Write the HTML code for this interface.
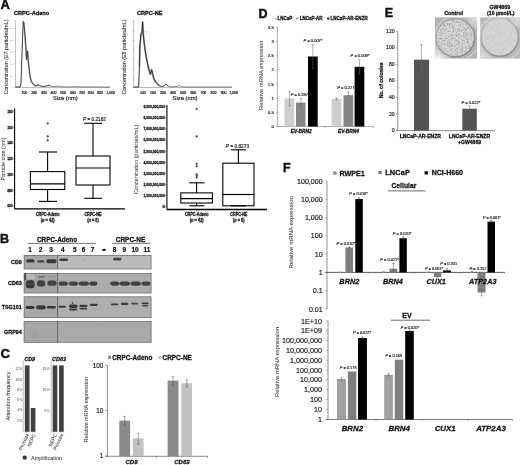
<!DOCTYPE html>
<html lang="en"><head><meta charset="utf-8"><title>Figure</title>
<style>
html,body{margin:0;padding:0;background:#fff;}
body{width:520px;height:465px;overflow:hidden;}
svg{display:block;font-family:"Liberation Sans",sans-serif;}
text{stroke:#111;stroke-width:.16px;}
text[font-weight="bold"]{stroke-width:.26px;}
</style></head><body>
<svg width="520" height="465" viewBox="0 0 520 465">
<defs>
<filter id="b1" x="-20%" y="-50%" width="140%" height="200%"><feGaussianBlur stdDeviation="0.65"/></filter>
<filter id="soft" x="0" y="0" width="100%" height="100%"><feGaussianBlur stdDeviation="0.28"/></filter>
<linearGradient id="blotbg" x1="0" y1="0" x2="1" y2="0"><stop offset="0" stop-color="#c4c4c4"/><stop offset="0.5" stop-color="#cccccc"/><stop offset="1" stop-color="#c8c8c8"/></linearGradient>
<filter id="b2" x="-5%" y="-5%" width="110%" height="110%"><feGaussianBlur stdDeviation="0.35"/></filter>
<radialGradient id="glowW"><stop offset="0" stop-color="#fff" stop-opacity="0.95"/><stop offset="1" stop-color="#fff" stop-opacity="0"/></radialGradient>
<radialGradient id="glowL"><stop offset="0" stop-color="#e4e4e4" stop-opacity="0.9"/><stop offset="1" stop-color="#e4e4e4" stop-opacity="0"/></radialGradient>
<linearGradient id="rim1" x1="0" y1="0" x2="1" y2="1"><stop offset="0" stop-color="#b0b0b0"/><stop offset="0.5" stop-color="#9a9a9a"/><stop offset="1" stop-color="#7c7c7c"/></linearGradient>
<linearGradient id="rim2" x1="0.3" y1="0" x2="0.8" y2="1"><stop offset="0" stop-color="#c4c4c4"/><stop offset="0.5" stop-color="#a4a4a4"/><stop offset="1" stop-color="#858585"/></linearGradient>
<filter id="mottle1" x="0" y="0" width="100%" height="100%"><feTurbulence type="fractalNoise" baseFrequency="0.55" numOctaves="2" seed="4" result="n"/><feColorMatrix in="n" type="matrix" values="0 0 0 0 0  0 0 0 0 0  0 0 0 0 0  2.4 0 0 0 -1.05" result="a"/><feFlood flood-color="#8e8e8e"/><feComposite operator="in" in2="a" result="dark"/><feColorMatrix in="n" type="matrix" values="0 0 0 0 1  0 0 0 0 1  0 0 0 0 1  0 -1.6 0 0 0.55" result="lite"/><feMerge><feMergeNode in="lite"/><feMergeNode in="dark"/></feMerge><feComposite operator="in" in2="SourceGraphic"/></filter>
<filter id="mottle2" x="0" y="0" width="100%" height="100%"><feTurbulence type="fractalNoise" baseFrequency="0.4" numOctaves="2" seed="9" result="n"/><feColorMatrix in="n" type="matrix" values="0 0 0 0 0  0 0 0 0 0  0 0 0 0 0  1.2 0 0 0 -0.5" result="a"/><feFlood flood-color="#b4b4b4"/><feComposite operator="in" in2="a"/><feComposite operator="in" in2="SourceGraphic"/></filter>
<linearGradient id="dishbg1" x1="1" y1="0" x2="0" y2="1"><stop offset="0" stop-color="#b4b4b4"/><stop offset="0.6" stop-color="#c2c2c2"/><stop offset="1" stop-color="#ececec"/></linearGradient>
<linearGradient id="dishbg2" x1="0" y1="0" x2="1" y2="1"><stop offset="0" stop-color="#bcbcbc"/><stop offset="0.7" stop-color="#c6c6c6"/><stop offset="1" stop-color="#d8d8d8"/></linearGradient>
<radialGradient id="dish1" cx="0.5" cy="0.5" r="0.5"><stop offset="0" stop-color="#d6d6d6"/><stop offset="0.85" stop-color="#cecece"/><stop offset="1" stop-color="#b4b4b4"/></radialGradient>
<radialGradient id="dish2" cx="0.5" cy="0.5" r="0.5"><stop offset="0" stop-color="#d8d8d8"/><stop offset="0.85" stop-color="#d2d2d2"/><stop offset="1" stop-color="#bebebe"/></radialGradient>
</defs>
<rect width="520" height="465" fill="#fff"/>
<g filter="url(#soft)">
<g id="panelA">
<text x="0.4" y="9.4" font-size="13" font-weight="bold" fill="#080808" style="stroke-width:.45px">A</text>
<text x="14" y="15.2" font-size="5.6" font-weight="bold" fill="#111">CRPC-Adeno</text>
<text x="137" y="15.2" font-size="5.6" font-weight="bold" fill="#111">CRPC-NE</text>
<text x="7.5" y="57" font-size="5.35" text-anchor="middle" transform="rotate(-90 7.5 57)" fill="#1c1c1c" style="stroke-width:.06px">Concentration (E7 particles/mL)</text>
<line x1="15.5" y1="20" x2="15.5" y2="87.4" stroke="#888" stroke-width="0.5"/>
<line x1="15.5" y1="87.4" x2="110" y2="87.4" stroke="#666" stroke-width="0.5"/>
<line x1="14.3" y1="87.4" x2="15.5" y2="87.4" stroke="#666" stroke-width="0.4"/>
<text x="13" y="88.30000000000001" font-size="2.4" text-anchor="end" fill="#888" style="stroke:none">0</text>
<line x1="14.3" y1="75.60000000000001" x2="15.5" y2="75.60000000000001" stroke="#666" stroke-width="0.4"/>
<text x="13" y="76.50000000000001" font-size="2.4" text-anchor="end" fill="#888" style="stroke:none">2.0</text>
<line x1="14.3" y1="63.800000000000004" x2="15.5" y2="63.800000000000004" stroke="#666" stroke-width="0.4"/>
<text x="13" y="64.7" font-size="2.4" text-anchor="end" fill="#888" style="stroke:none">4.0</text>
<line x1="14.3" y1="52.0" x2="15.5" y2="52.0" stroke="#666" stroke-width="0.4"/>
<text x="13" y="52.9" font-size="2.4" text-anchor="end" fill="#888" style="stroke:none">6.0</text>
<line x1="14.3" y1="40.2" x2="15.5" y2="40.2" stroke="#666" stroke-width="0.4"/>
<text x="13" y="41.1" font-size="2.4" text-anchor="end" fill="#888" style="stroke:none">8.0</text>
<line x1="14.3" y1="28.400000000000006" x2="15.5" y2="28.400000000000006" stroke="#666" stroke-width="0.4"/>
<text x="13" y="29.300000000000004" font-size="2.4" text-anchor="end" fill="#888" style="stroke:none">10.0</text>
<text x="24.4" y="93.7" font-size="3.5" text-anchor="middle" fill="#222" style="stroke-width:.2px">100</text>
<text x="34.1" y="93.7" font-size="3.5" text-anchor="middle" fill="#222" style="stroke-width:.2px">200</text>
<text x="43.8" y="93.7" font-size="3.5" text-anchor="middle" fill="#222" style="stroke-width:.2px">300</text>
<text x="53.5" y="93.7" font-size="3.5" text-anchor="middle" fill="#222" style="stroke-width:.2px">400</text>
<text x="63.2" y="93.7" font-size="3.5" text-anchor="middle" fill="#222" style="stroke-width:.2px">500</text>
<text x="72.9" y="93.7" font-size="3.5" text-anchor="middle" fill="#222" style="stroke-width:.2px">600</text>
<text x="81.8" y="93.7" font-size="3.5" text-anchor="middle" fill="#222" style="stroke-width:.2px">700</text>
<text x="90.7" y="93.7" font-size="3.5" text-anchor="middle" fill="#222" style="stroke-width:.2px">800</text>
<text x="99.8" y="93.7" font-size="3.5" text-anchor="middle" fill="#222" style="stroke-width:.2px">900</text>
<text x="110.7" y="93.7" font-size="3.5" text-anchor="middle" fill="#222" style="stroke-width:.2px">1,000</text>
<text x="65.3" y="99.8" font-size="5.8" text-anchor="middle" fill="#151515">Size (nm)</text>
<path d="M15.5,87.0 L20.3,87.0 L20.9,84 L21.5,70 L22,54.6 L22.6,36 L23.1,25.3 L23.4,21.5 L23.8,22.5 L24.1,25.3 L24.6,31 L25.1,37.4 L25.6,44 L26,49.4 L26.3,56 L26.6,59.5 L27,55 L27.4,51.1 L27.8,54 L28.2,59.7 L28.7,65 L29.3,70 L29.9,75 L30.6,79 L31.4,81.5 L32.4,83 L33.6,84.5 L34.9,85.5 L36.5,85.6 L38.4,85 L40,85.8 L43,86.4 L46,86.2 L48,85.4 L49.2,85.2 L50.5,85.8" fill="none" stroke="#0a0a0a" stroke-width="0.8" stroke-linejoin="round"/>
<path d="M50.5,85.8 L53,86.6 L56,86.5 L58.2,86 L60,86.6 L65,86.9 L75,86.9 L77,86.5 L79,86.9 L110,87.0" fill="none" stroke="#333" stroke-width="0.55" stroke-linejoin="round"/>
<path d="M23.1,25.3 L23.4,21.5 L23.8,22.5 L24.1,25.3 L24.6,31 L25.1,37.4 L25.6,44 L26,49.4 L26.3,56 L26.6,59.5 L27,55 L27.4,51.1 L27.8,54 L28.2,59.7 L28.7,65 L29.3,70 L29.9,75 L30.6,79 L31.4,81.5 L32.4,83 L33.6,84.5 L34.9,85.5 L36.5,85.6 L38.4,85" fill="none" stroke="#444" stroke-width="1.7" opacity="0.4" stroke-linejoin="round"/>
<text x="23.8" y="25.5" font-size="2.4" fill="#b0b0b0" style="stroke:none">94</text>
<text x="28.2" y="58.5" font-size="2.4" fill="#b0b0b0" style="stroke:none">127</text>
<text x="126" y="57" font-size="5.35" text-anchor="middle" transform="rotate(-90 126 57)" fill="#1c1c1c" style="stroke-width:.06px">Concentration (E8 particles/mL)</text>
<line x1="133.7" y1="20" x2="133.7" y2="87.4" stroke="#888" stroke-width="0.5"/>
<line x1="133.7" y1="87.4" x2="232" y2="87.4" stroke="#666" stroke-width="0.5"/>
<line x1="132.8" y1="87.5" x2="134" y2="87.5" stroke="#555" stroke-width="0.4"/>
<line x1="132.8" y1="78.1" x2="134" y2="78.1" stroke="#555" stroke-width="0.4"/>
<line x1="132.8" y1="68.7" x2="134" y2="68.7" stroke="#555" stroke-width="0.4"/>
<line x1="132.8" y1="59.3" x2="134" y2="59.3" stroke="#555" stroke-width="0.4"/>
<line x1="132.8" y1="49.9" x2="134" y2="49.9" stroke="#555" stroke-width="0.4"/>
<line x1="132.8" y1="40.5" x2="134" y2="40.5" stroke="#555" stroke-width="0.4"/>
<line x1="132.8" y1="31.099999999999994" x2="134" y2="31.099999999999994" stroke="#555" stroke-width="0.4"/>
<line x1="132.8" y1="21.700000000000003" x2="134" y2="21.700000000000003" stroke="#555" stroke-width="0.4"/>
<text x="142.8" y="93.7" font-size="3.5" text-anchor="middle" fill="#222" style="stroke-width:.2px">100</text>
<text x="152.9" y="93.7" font-size="3.5" text-anchor="middle" fill="#222" style="stroke-width:.2px">200</text>
<text x="163.0" y="93.7" font-size="3.5" text-anchor="middle" fill="#222" style="stroke-width:.2px">300</text>
<text x="173.10000000000002" y="93.7" font-size="3.5" text-anchor="middle" fill="#222" style="stroke-width:.2px">400</text>
<text x="183.20000000000002" y="93.7" font-size="3.5" text-anchor="middle" fill="#222" style="stroke-width:.2px">500</text>
<text x="193.3" y="93.7" font-size="3.5" text-anchor="middle" fill="#222" style="stroke-width:.2px">600</text>
<text x="203.4" y="93.7" font-size="3.5" text-anchor="middle" fill="#222" style="stroke-width:.2px">700</text>
<text x="213.5" y="93.7" font-size="3.5" text-anchor="middle" fill="#222" style="stroke-width:.2px">800</text>
<text x="223.60000000000002" y="93.7" font-size="3.5" text-anchor="middle" fill="#222" style="stroke-width:.2px">900</text>
<text x="233.7" y="93.7" font-size="3.5" text-anchor="middle" fill="#222" style="stroke-width:.2px">1,000</text>
<text x="185" y="99.8" font-size="5.8" text-anchor="middle" fill="#151515">Size (nm)</text>
<path d="M133.7,87.0 L138.7,86.9 L139.4,66.6 L140,44.2 L141.1,33.9 L142.1,32.2 L142.6,21.9 L143.1,32.2 L144.3,44.2 L146.1,56.3 L147.8,64.9 L149.5,71.8 L150.4,74.3 L151.6,69.7 L152.6,73.5 L153.8,78.6 L156.4,82.9 L159,85.5 L161.5,86.5 L164.1,85.9 L166.2,84.1 L167.9,85.9" fill="none" stroke="#0a0a0a" stroke-width="0.85" stroke-linejoin="round"/>
<path d="M167.9,85.9 L171,86.9 L177,86.5 L179.2,85.5 L181.3,86.5 L184.7,87.0 L232,87.0" fill="none" stroke="#333" stroke-width="0.55" stroke-linejoin="round"/>
<path d="M139.4,66.6 L140,44.2 L141.1,33.9 L142.1,32.2 L142.6,21.9 L143.1,32.2 L144.3,44.2 L146.1,56.3 L147.8,64.9 L149.5,71.8 L150.4,74.3 L151.6,69.7 L152.6,73.5 L153.8,78.6 L156.4,82.9 L159,85.5" fill="none" stroke="#333" stroke-width="1.9" opacity="0.45" stroke-linejoin="round"/>
<text x="143.8" y="32" font-size="2.4" fill="#b0b0b0" style="stroke:none">98</text>
<text x="152.6" y="72" font-size="2.4" fill="#b0b0b0" style="stroke:none">177</text>
<line x1="14.6" y1="108.5" x2="14.6" y2="209" stroke="#050505" stroke-width="1.1"/>
<line x1="14.6" y1="208.9" x2="125" y2="208.9" stroke="#050505" stroke-width="1.2"/>
<line x1="13.2" y1="111.4" x2="14.8" y2="111.4" stroke="#222" stroke-width="0.6"/>
<text x="12.7" y="112.80000000000001" font-size="4.2" text-anchor="end" font-weight="bold" fill="#151515" textLength="5.5" lengthAdjust="spacingAndGlyphs">180</text>
<line x1="13.9" y1="119.30000000000001" x2="14.8" y2="119.30000000000001" stroke="#222" stroke-width="0.5"/>
<line x1="13.2" y1="127.17" x2="14.8" y2="127.17" stroke="#222" stroke-width="0.6"/>
<text x="12.7" y="128.57" font-size="4.2" text-anchor="end" font-weight="bold" fill="#151515" textLength="5.5" lengthAdjust="spacingAndGlyphs">160</text>
<line x1="13.9" y1="135.07" x2="14.8" y2="135.07" stroke="#222" stroke-width="0.5"/>
<line x1="13.2" y1="142.94" x2="14.8" y2="142.94" stroke="#222" stroke-width="0.6"/>
<text x="12.7" y="144.34" font-size="4.2" text-anchor="end" font-weight="bold" fill="#151515" textLength="5.5" lengthAdjust="spacingAndGlyphs">140</text>
<line x1="13.9" y1="150.84" x2="14.8" y2="150.84" stroke="#222" stroke-width="0.5"/>
<line x1="13.2" y1="158.71" x2="14.8" y2="158.71" stroke="#222" stroke-width="0.6"/>
<text x="12.7" y="160.11" font-size="4.2" text-anchor="end" font-weight="bold" fill="#151515" textLength="5.5" lengthAdjust="spacingAndGlyphs">120</text>
<line x1="13.9" y1="166.61" x2="14.8" y2="166.61" stroke="#222" stroke-width="0.5"/>
<line x1="13.2" y1="174.48000000000002" x2="14.8" y2="174.48000000000002" stroke="#222" stroke-width="0.6"/>
<text x="12.7" y="175.88000000000002" font-size="4.2" text-anchor="end" font-weight="bold" fill="#151515" textLength="5.5" lengthAdjust="spacingAndGlyphs">100</text>
<line x1="13.9" y1="182.38000000000002" x2="14.8" y2="182.38000000000002" stroke="#222" stroke-width="0.5"/>
<line x1="13.2" y1="190.25" x2="14.8" y2="190.25" stroke="#222" stroke-width="0.6"/>
<text x="12.7" y="191.65" font-size="4.2" text-anchor="end" font-weight="bold" fill="#151515" textLength="5.5" lengthAdjust="spacingAndGlyphs">80</text>
<line x1="13.9" y1="198.15" x2="14.8" y2="198.15" stroke="#222" stroke-width="0.5"/>
<line x1="13.2" y1="206.02" x2="14.8" y2="206.02" stroke="#222" stroke-width="0.6"/>
<text x="12.7" y="207.42000000000002" font-size="4.2" text-anchor="end" font-weight="bold" fill="#151515" textLength="5.5" lengthAdjust="spacingAndGlyphs">60</text>
<text x="4.7" y="159" font-size="5.6" text-anchor="middle" transform="rotate(-90 4.7 159)" fill="#1c1c1c" style="stroke:none">Particle size (nm)</text>
<rect x="30.40" y="171.60" width="34.40" height="17.90" fill="#fff" stroke="#050505" stroke-width="1.1"/>
<line x1="30.4" y1="183.8" x2="64.8" y2="183.8" stroke="#050505" stroke-width="1.2"/>
<line x1="47.599999999999994" y1="152" x2="47.599999999999994" y2="171.6" stroke="#050505" stroke-width="1.1"/>
<line x1="47.599999999999994" y1="189.5" x2="47.599999999999994" y2="201.4" stroke="#050505" stroke-width="1.1"/>
<line x1="39" y1="152" x2="57" y2="152" stroke="#050505" stroke-width="1.1"/>
<line x1="39" y1="201.4" x2="57" y2="201.4" stroke="#050505" stroke-width="1.1"/>
<circle cx="47.7" cy="123.3" r="0.85" fill="#777" stroke="#333" stroke-width="0.6"/>
<circle cx="47.7" cy="136.4" r="0.85" fill="#777" stroke="#333" stroke-width="0.6"/>
<circle cx="47.7" cy="140.3" r="0.85" fill="#777" stroke="#333" stroke-width="0.6"/>
<rect x="76.00" y="156.00" width="34.00" height="29.00" fill="#fff" stroke="#050505" stroke-width="1.1"/>
<line x1="76" y1="168" x2="110" y2="168" stroke="#050505" stroke-width="1.2"/>
<line x1="93.0" y1="123.3" x2="93.0" y2="156" stroke="#050505" stroke-width="1.1"/>
<line x1="93.0" y1="185" x2="93.0" y2="198.3" stroke="#050505" stroke-width="1.1"/>
<line x1="84.3" y1="123.3" x2="102" y2="123.3" stroke="#050505" stroke-width="1.1"/>
<line x1="84.3" y1="198.3" x2="102" y2="198.3" stroke="#050505" stroke-width="1.1"/>
<text x="94.5" y="121.2" font-size="4.7" text-anchor="middle" fill="#1a1a1a"><tspan font-style="italic">P</tspan> = 0.2162</text>
<text x="47.7" y="215.8" font-size="4.6" text-anchor="middle" font-weight="bold" fill="#151515" textLength="23.6" lengthAdjust="spacingAndGlyphs">CRPC-Adeno</text>
<text x="47.7" y="222.4" font-size="4.5" text-anchor="middle" font-weight="bold" fill="#151515" textLength="14" lengthAdjust="spacingAndGlyphs">(<tspan font-style="italic">n</tspan> = 42)</text>
<text x="93" y="215.8" font-size="4.6" text-anchor="middle" font-weight="bold" fill="#151515" textLength="17.2" lengthAdjust="spacingAndGlyphs">CRPC-NE</text>
<text x="93" y="222.4" font-size="4.5" text-anchor="middle" font-weight="bold" fill="#151515" textLength="11.6" lengthAdjust="spacingAndGlyphs">(<tspan font-style="italic">n</tspan> = 6)</text>
<line x1="47.7" y1="209" x2="47.7" y2="210.8" stroke="#222" stroke-width="0.6"/>
<line x1="93.4" y1="209" x2="93.4" y2="210.8" stroke="#222" stroke-width="0.6"/>
<line x1="166.9" y1="105" x2="166.9" y2="209.5" stroke="#050505" stroke-width="1.1"/>
<line x1="166.9" y1="209.5" x2="267" y2="209.5" stroke="#050505" stroke-width="1.3"/>
<line x1="165.3" y1="106.6" x2="166.9" y2="106.6" stroke="#222" stroke-width="0.6"/>
<text x="164.8" y="108.0" font-size="4.2" text-anchor="end" font-weight="bold" fill="#151515" textLength="21.4" lengthAdjust="spacingAndGlyphs">9,000,000,000</text>
<line x1="166" y1="112.19999999999999" x2="166.9" y2="112.19999999999999" stroke="#222" stroke-width="0.5"/>
<line x1="165.3" y1="117.72999999999999" x2="166.9" y2="117.72999999999999" stroke="#222" stroke-width="0.6"/>
<text x="164.8" y="119.13" font-size="4.2" text-anchor="end" font-weight="bold" fill="#151515" textLength="21.4" lengthAdjust="spacingAndGlyphs">8,000,000,000</text>
<line x1="166" y1="123.32999999999998" x2="166.9" y2="123.32999999999998" stroke="#222" stroke-width="0.5"/>
<line x1="165.3" y1="128.85999999999999" x2="166.9" y2="128.85999999999999" stroke="#222" stroke-width="0.6"/>
<text x="164.8" y="130.26" font-size="4.2" text-anchor="end" font-weight="bold" fill="#151515" textLength="21.4" lengthAdjust="spacingAndGlyphs">7,000,000,000</text>
<line x1="166" y1="134.45999999999998" x2="166.9" y2="134.45999999999998" stroke="#222" stroke-width="0.5"/>
<line x1="165.3" y1="139.99" x2="166.9" y2="139.99" stroke="#222" stroke-width="0.6"/>
<text x="164.8" y="141.39000000000001" font-size="4.2" text-anchor="end" font-weight="bold" fill="#151515" textLength="21.4" lengthAdjust="spacingAndGlyphs">6,000,000,000</text>
<line x1="166" y1="145.59" x2="166.9" y2="145.59" stroke="#222" stroke-width="0.5"/>
<line x1="165.3" y1="151.12" x2="166.9" y2="151.12" stroke="#222" stroke-width="0.6"/>
<text x="164.8" y="152.52" font-size="4.2" text-anchor="end" font-weight="bold" fill="#151515" textLength="21.4" lengthAdjust="spacingAndGlyphs">5,000,000,000</text>
<line x1="166" y1="156.72" x2="166.9" y2="156.72" stroke="#222" stroke-width="0.5"/>
<line x1="165.3" y1="162.25" x2="166.9" y2="162.25" stroke="#222" stroke-width="0.6"/>
<text x="164.8" y="163.65" font-size="4.2" text-anchor="end" font-weight="bold" fill="#151515" textLength="21.4" lengthAdjust="spacingAndGlyphs">4,000,000,000</text>
<line x1="166" y1="167.85" x2="166.9" y2="167.85" stroke="#222" stroke-width="0.5"/>
<line x1="165.3" y1="173.38" x2="166.9" y2="173.38" stroke="#222" stroke-width="0.6"/>
<text x="164.8" y="174.78" font-size="4.2" text-anchor="end" font-weight="bold" fill="#151515" textLength="21.4" lengthAdjust="spacingAndGlyphs">3,000,000,000</text>
<line x1="166" y1="178.98" x2="166.9" y2="178.98" stroke="#222" stroke-width="0.5"/>
<line x1="165.3" y1="184.51" x2="166.9" y2="184.51" stroke="#222" stroke-width="0.6"/>
<text x="164.8" y="185.91" font-size="4.2" text-anchor="end" font-weight="bold" fill="#151515" textLength="21.4" lengthAdjust="spacingAndGlyphs">2,000,000,000</text>
<line x1="166" y1="190.10999999999999" x2="166.9" y2="190.10999999999999" stroke="#222" stroke-width="0.5"/>
<line x1="165.3" y1="195.64" x2="166.9" y2="195.64" stroke="#222" stroke-width="0.6"/>
<text x="164.8" y="197.04" font-size="4.2" text-anchor="end" font-weight="bold" fill="#151515" textLength="21.4" lengthAdjust="spacingAndGlyphs">1,000,000,000</text>
<line x1="166" y1="201.23999999999998" x2="166.9" y2="201.23999999999998" stroke="#222" stroke-width="0.5"/>
<line x1="165.3" y1="206.76999999999998" x2="166.9" y2="206.76999999999998" stroke="#222" stroke-width="0.6"/>
<text x="164.8" y="208.17" font-size="4.2" text-anchor="end" font-weight="bold" fill="#151515">0</text>
<text x="138.0" y="159.5" font-size="5.55" text-anchor="middle" transform="rotate(-90 138.0 159.5)" fill="#1c1c1c" style="stroke:none">Concentration (particles/mL)</text>
<rect x="180.80" y="192.90" width="31.60" height="10.10" fill="#fff" stroke="#050505" stroke-width="1.1"/>
<line x1="180.8" y1="198.6" x2="212.4" y2="198.6" stroke="#050505" stroke-width="1.2"/>
<line x1="196.60000000000002" y1="182.8" x2="196.60000000000002" y2="192.9" stroke="#050505" stroke-width="1.1"/>
<line x1="196.60000000000002" y1="203" x2="196.60000000000002" y2="205.8" stroke="#050505" stroke-width="1.1"/>
<line x1="189.2" y1="182.8" x2="204.4" y2="182.8" stroke="#050505" stroke-width="1.1"/>
<line x1="189.2" y1="205.8" x2="204.4" y2="205.8" stroke="#050505" stroke-width="1.1"/>
<circle cx="196.7" cy="109" r="0.85" fill="#777" stroke="#333" stroke-width="0.6"/>
<circle cx="196.7" cy="136.4" r="0.85" fill="#777" stroke="#333" stroke-width="0.6"/>
<circle cx="196.7" cy="163.8" r="0.85" fill="#777" stroke="#333" stroke-width="0.6"/>
<circle cx="196.7" cy="166.3" r="0.85" fill="#777" stroke="#333" stroke-width="0.6"/>
<circle cx="196.7" cy="174.3" r="0.85" fill="#777" stroke="#333" stroke-width="0.6"/>
<circle cx="196.7" cy="175.8" r="0.85" fill="#777" stroke="#333" stroke-width="0.6"/>
<circle cx="196.7" cy="177.4" r="0.85" fill="#777" stroke="#333" stroke-width="0.6"/>
<rect x="222.80" y="163.20" width="31.20" height="42.60" fill="#fff" stroke="#050505" stroke-width="1.1"/>
<line x1="222.8" y1="194.5" x2="254" y2="194.5" stroke="#050505" stroke-width="1.2"/>
<line x1="238.4" y1="149.8" x2="238.4" y2="163.2" stroke="#050505" stroke-width="1.1"/>
<line x1="238.4" y1="205.8" x2="238.4" y2="205.8" stroke="#050505" stroke-width="1.1"/>
<line x1="230.7" y1="149.8" x2="245.8" y2="149.8" stroke="#050505" stroke-width="1.1"/>
<line x1="230.7" y1="205.8" x2="245.8" y2="205.8" stroke="#050505" stroke-width="1.1"/>
<text x="237.4" y="147.6" font-size="4.8" text-anchor="middle" fill="#1a1a1a"><tspan font-style="italic">P</tspan> = 0.8273</text>
<text x="196.7" y="215.8" font-size="4.6" text-anchor="middle" font-weight="bold" fill="#151515" textLength="23.6" lengthAdjust="spacingAndGlyphs">CRPC-Adeno</text>
<text x="196.7" y="222.4" font-size="4.5" text-anchor="middle" font-weight="bold" fill="#151515" textLength="14" lengthAdjust="spacingAndGlyphs">(<tspan font-style="italic">n</tspan> = 42)</text>
<text x="238.8" y="215.8" font-size="4.6" text-anchor="middle" font-weight="bold" fill="#151515" textLength="17.2" lengthAdjust="spacingAndGlyphs">CRPC-NE</text>
<text x="238.8" y="222.4" font-size="4.5" text-anchor="middle" font-weight="bold" fill="#151515" textLength="11.6" lengthAdjust="spacingAndGlyphs">(<tspan font-style="italic">n</tspan> = 6)</text>
<line x1="196.7" y1="209.6" x2="196.7" y2="211.2" stroke="#222" stroke-width="0.6"/>
<line x1="238.4" y1="209.6" x2="238.4" y2="211.2" stroke="#222" stroke-width="0.6"/>
</g>
<g id="panelB">
<text x="0.1" y="242.7" font-size="12.5" font-weight="bold" fill="#080808" style="stroke-width:.45px">B</text>
<text x="57" y="241.6" font-size="6.4" text-anchor="middle" font-weight="bold" fill="#111">CRPC-Adeno</text>
<text x="130.5" y="241.6" font-size="6.5" text-anchor="middle" font-weight="bold" fill="#111">CRPC-NE</text>
<line x1="27.7" y1="243.4" x2="96" y2="243.4" stroke="#666" stroke-width="0.9"/>
<line x1="112.2" y1="243.4" x2="150.2" y2="243.4" stroke="#666" stroke-width="0.9"/>
<text x="30" y="251.6" font-size="6.4" text-anchor="middle" font-weight="bold" fill="#111" style="stroke-width:.22px">1</text>
<text x="40.5" y="251.6" font-size="6.4" text-anchor="middle" font-weight="bold" fill="#111" style="stroke-width:.22px">2</text>
<text x="51" y="251.6" font-size="6.4" text-anchor="middle" font-weight="bold" fill="#111" style="stroke-width:.22px">3</text>
<text x="62.7" y="251.6" font-size="6.4" text-anchor="middle" font-weight="bold" fill="#111" style="stroke-width:.22px">4</text>
<text x="74.9" y="251.6" font-size="6.4" text-anchor="middle" font-weight="bold" fill="#111" style="stroke-width:.22px">5</text>
<text x="83.6" y="251.6" font-size="6.4" text-anchor="middle" font-weight="bold" fill="#111" style="stroke-width:.22px">6</text>
<text x="92.6" y="251.6" font-size="6.4" text-anchor="middle" font-weight="bold" fill="#111" style="stroke-width:.22px">7</text>
<text x="103.8" y="251.6" font-size="6.4" text-anchor="middle" font-weight="bold" fill="#111" style="stroke-width:.22px">–</text>
<text x="114.6" y="251.6" font-size="6.4" text-anchor="middle" font-weight="bold" fill="#111" style="stroke-width:.22px">8</text>
<text x="124.3" y="251.6" font-size="6.4" text-anchor="middle" font-weight="bold" fill="#111" style="stroke-width:.22px">9</text>
<text x="135.1" y="251.6" font-size="6.4" text-anchor="middle" font-weight="bold" fill="#111" style="stroke-width:.22px">10</text>
<text x="147" y="251.6" font-size="6.4" text-anchor="middle" font-weight="bold" fill="#111" style="stroke-width:.22px">11</text>
<rect x="102.50" y="248.90" width="3.20" height="1.20" fill="#1a1a1a"/>
<rect x="24.10" y="255.40" width="127.00" height="13.60" fill="#bababa"/>
<rect x="24.10" y="255.40" width="33.50" height="13.60" fill="#a6a6a6"/>
<rect x="24.10" y="255.40" width="127.00" height="13.60" fill="none" stroke="#6e6e6e" stroke-width="0.8"/>
<line x1="57.6" y1="255.4" x2="57.6" y2="269.0" stroke="#3a3a3a" stroke-width="0.6"/>
<text x="21.8" y="264.09999999999997" font-size="5.4" text-anchor="end" font-weight="bold" fill="#111">CD9</text>
<rect x="24.10" y="273.40" width="127.00" height="19.60" fill="#acacac"/>
<rect x="24.10" y="273.40" width="33.50" height="19.60" fill="#a4a4a4"/>
<rect x="24.10" y="273.40" width="127.00" height="19.60" fill="none" stroke="#6e6e6e" stroke-width="0.8"/>
<line x1="57.6" y1="273.4" x2="57.6" y2="293.0" stroke="#3a3a3a" stroke-width="0.6"/>
<text x="21.8" y="285.09999999999997" font-size="5.4" text-anchor="end" font-weight="bold" fill="#111">CD63</text>
<rect x="24.10" y="296.80" width="127.00" height="20.90" fill="#aeaeae"/>
<rect x="24.10" y="296.80" width="33.50" height="20.90" fill="#a8a8a8"/>
<rect x="24.10" y="296.80" width="127.00" height="20.90" fill="none" stroke="#6e6e6e" stroke-width="0.8"/>
<line x1="57.6" y1="296.8" x2="57.6" y2="317.7" stroke="#3a3a3a" stroke-width="0.6"/>
<text x="21.8" y="309.15" font-size="5.4" text-anchor="end" font-weight="bold" fill="#111">TSG101</text>
<rect x="24.10" y="321.50" width="127.00" height="20.80" fill="#a9a9a9"/>
<rect x="24.10" y="321.50" width="33.50" height="20.80" fill="#a6a6a6"/>
<rect x="24.10" y="321.50" width="127.00" height="20.80" fill="none" stroke="#6e6e6e" stroke-width="0.8"/>
<line x1="57.6" y1="321.5" x2="57.6" y2="342.3" stroke="#3a3a3a" stroke-width="0.6"/>
<text x="21.8" y="333.79999999999995" font-size="5.4" text-anchor="end" font-weight="bold" fill="#111">GRP94</text>
<rect x="26.10" y="259.30" width="8.50" height="3.30" rx="1.65" fill="#2e2e2e" opacity="0.9" filter="url(#b1)"/>
<rect x="37.30" y="260.30" width="6.90" height="2.20" rx="1.10" fill="#2e2e2e" opacity="0.8" filter="url(#b1)"/>
<rect x="46.30" y="259.20" width="10.30" height="4.00" rx="2.00" fill="#2e2e2e" opacity="0.9" filter="url(#b1)"/>
<rect x="59.40" y="258.50" width="8.60" height="2.50" rx="1.25" fill="#2e2e2e" opacity="0.9" filter="url(#b1)"/>
<rect x="82.00" y="259.25" width="3.00" height="1.50" rx="0.75" fill="#2e2e2e" opacity="0.1" filter="url(#b1)"/>
<rect x="113.00" y="257.80" width="8.50" height="2.60" rx="1.30" fill="#2e2e2e" opacity="0.85" filter="url(#b1)"/>
<rect x="59.00" y="282.50" width="38.00" height="2.40" rx="1.20" fill="#444" opacity="0.4" filter="url(#b1)"/>
<rect x="112.50" y="282.50" width="37.00" height="2.40" rx="1.20" fill="#444" opacity="0.4" filter="url(#b1)"/>
<rect x="25.60" y="280.20" width="9.20" height="8.00" rx="4.00" fill="#383838" opacity="0.85" filter="url(#b1)"/>
<rect x="26.00" y="285.20" width="8.40" height="3.00" rx="1.50" fill="#222" opacity="0.5" filter="url(#b1)"/>
<rect x="26.00" y="280.20" width="8.40" height="2.40" rx="1.20" fill="#222" opacity="0.4" filter="url(#b1)"/>
<rect x="36.80" y="280.30" width="8.40" height="6.30" rx="3.15" fill="#343434" opacity="0.88" filter="url(#b1)"/>
<rect x="38.30" y="276.00" width="6.60" height="1.70" rx="0.85" fill="#444" opacity="0.55" filter="url(#b1)"/>
<rect x="47.40" y="280.40" width="9.20" height="5.40" rx="2.70" fill="#343434" opacity="0.88" filter="url(#b1)"/>
<rect x="48.50" y="276.20" width="7.00" height="1.40" rx="0.70" fill="#444" opacity="0.15" filter="url(#b1)"/>
<rect x="58.60" y="281.50" width="9.00" height="4.20" rx="2.10" fill="#363636" opacity="0.85" filter="url(#b1)"/>
<rect x="69.00" y="281.50" width="8.80" height="4.20" rx="2.10" fill="#363636" opacity="0.85" filter="url(#b1)"/>
<rect x="79.00" y="281.50" width="9.80" height="4.20" rx="2.10" fill="#363636" opacity="0.85" filter="url(#b1)"/>
<rect x="89.60" y="281.50" width="7.80" height="4.20" rx="2.10" fill="#363636" opacity="0.85" filter="url(#b1)"/>
<rect x="110.20" y="281.50" width="8.80" height="4.20" rx="2.10" fill="#363636" opacity="0.85" filter="url(#b1)"/>
<rect x="119.80" y="281.50" width="10.00" height="4.20" rx="2.10" fill="#363636" opacity="0.85" filter="url(#b1)"/>
<rect x="130.80" y="281.50" width="10.00" height="4.20" rx="2.10" fill="#363636" opacity="0.85" filter="url(#b1)"/>
<rect x="141.80" y="281.50" width="8.60" height="4.20" rx="2.10" fill="#363636" opacity="0.85" filter="url(#b1)"/>
<rect x="24.30" y="273.60" width="1.80" height="6.60" fill="#222" opacity="0.7" filter="url(#b1)"/>
<rect x="26.00" y="274.20" width="8.60" height="5.00" fill="#fff" opacity="0.22" filter="url(#b1)"/>
<rect x="25.60" y="306.00" width="8.80" height="2.90" rx="1.45" fill="#2e2e2e" opacity="0.9" filter="url(#b1)"/>
<rect x="36.10" y="305.20" width="9.60" height="4.30" rx="2.15" fill="#2e2e2e" opacity="0.9" filter="url(#b1)"/>
<rect x="46.90" y="306.00" width="9.00" height="2.50" rx="1.25" fill="#2e2e2e" opacity="0.9" filter="url(#b1)"/>
<rect x="58.70" y="305.70" width="7.30" height="2.10" rx="1.05" fill="#2e2e2e" opacity="0.9" filter="url(#b1)"/>
<rect x="69.00" y="304.40" width="8.60" height="3.60" rx="1.80" fill="#2e2e2e" opacity="0.9" filter="url(#b1)"/>
<rect x="69.20" y="308.60" width="8.00" height="1.80" rx="0.90" fill="#2e2e2e" opacity="0.9" filter="url(#b1)"/>
<rect x="71.80" y="301.80" width="1.60" height="2.40" rx="0.80" fill="#2e2e2e" opacity="0.7" filter="url(#b1)"/>
<rect x="79.20" y="304.80" width="8.40" height="2.20" rx="1.10" fill="#2e2e2e" opacity="0.9" filter="url(#b1)"/>
<rect x="79.40" y="307.70" width="7.80" height="1.90" rx="0.95" fill="#2e2e2e" opacity="0.9" filter="url(#b1)"/>
<rect x="89.80" y="303.70" width="8.00" height="2.30" rx="1.15" fill="#2e2e2e" opacity="0.9" filter="url(#b1)"/>
<rect x="111.00" y="303.50" width="7.20" height="1.80" rx="0.90" fill="#2e2e2e" opacity="0.9" filter="url(#b1)"/>
<rect x="120.80" y="302.80" width="7.60" height="2.20" rx="1.10" fill="#2e2e2e" opacity="0.9" filter="url(#b1)"/>
<rect x="131.20" y="302.80" width="6.80" height="1.60" rx="0.80" fill="#2e2e2e" opacity="0.8" filter="url(#b1)"/>
<rect x="141.60" y="302.50" width="7.00" height="1.80" rx="0.90" fill="#2e2e2e" opacity="0.9" filter="url(#b1)"/>
<rect x="142.20" y="305.00" width="6.00" height="1.50" rx="0.75" fill="#2e2e2e" opacity="0.8" filter="url(#b1)"/>
<rect x="30.50" y="330.00" width="7.00" height="8.00" rx="3.50" fill="#000" opacity="0.03" filter="url(#b1)"/>
<rect x="95.00" y="323.20" width="10.00" height="2.60" rx="1.30" fill="#000" opacity="0.05" filter="url(#b1)"/>
</g>
<g id="panelC">
<text x="0.5" y="358.2" font-size="13.2" font-weight="bold" fill="#080808" style="stroke-width:.45px">C</text>
<text x="24.4" y="361.2" font-size="5.2" font-weight="bold" font-style="italic" fill="#111">CD9</text>
<text x="52.1" y="361.2" font-size="5.4" font-weight="bold" font-style="italic" fill="#111">CD63</text>
<line x1="23.4" y1="360.5" x2="23.4" y2="432" stroke="#cfcfcf" stroke-width="1.6"/>
<line x1="51.4" y1="360.5" x2="51.4" y2="432" stroke="#cfcfcf" stroke-width="1.6"/>
<line x1="23.6" y1="432" x2="37" y2="432" stroke="#bbb" stroke-width="0.5"/>
<line x1="51" y1="432" x2="65" y2="432" stroke="#bbb" stroke-width="0.5"/>
<rect x="24.90" y="365.40" width="4.60" height="66.40" fill="#3f3f3f"/>
<rect x="30.80" y="408.00" width="4.60" height="23.80" fill="#3f3f3f"/>
<rect x="52.70" y="365.40" width="4.60" height="66.40" fill="#3f3f3f"/>
<rect x="59.10" y="365.40" width="4.60" height="66.40" fill="#3f3f3f"/>
<text x="22.2" y="370.2" font-size="3.4" text-anchor="end" fill="#444" style="stroke:none">12%</text>
<line x1="22.6" y1="369.0" x2="23.6" y2="369.0" stroke="#bbb" stroke-width="0.4"/>
<text x="22.2" y="380.52" font-size="3.4" text-anchor="end" fill="#444" style="stroke:none">10%</text>
<line x1="22.6" y1="379.32" x2="23.6" y2="379.32" stroke="#bbb" stroke-width="0.4"/>
<text x="22.2" y="390.84" font-size="3.4" text-anchor="end" fill="#444" style="stroke:none">8%</text>
<line x1="22.6" y1="389.64" x2="23.6" y2="389.64" stroke="#bbb" stroke-width="0.4"/>
<text x="22.2" y="401.15999999999997" font-size="3.4" text-anchor="end" fill="#444" style="stroke:none">6%</text>
<line x1="22.6" y1="399.96" x2="23.6" y2="399.96" stroke="#bbb" stroke-width="0.4"/>
<text x="22.2" y="411.47999999999996" font-size="3.4" text-anchor="end" fill="#444" style="stroke:none">4%</text>
<line x1="22.6" y1="410.28" x2="23.6" y2="410.28" stroke="#bbb" stroke-width="0.4"/>
<text x="22.2" y="421.8" font-size="3.4" text-anchor="end" fill="#444" style="stroke:none">2%</text>
<line x1="22.6" y1="420.6" x2="23.6" y2="420.6" stroke="#bbb" stroke-width="0.4"/>
<text x="49.4" y="370.2" font-size="3.5" text-anchor="end" fill="#444" style="stroke:none">15%</text>
<line x1="50" y1="369.0" x2="51" y2="369.0" stroke="#bbb" stroke-width="0.4"/>
<text x="49.4" y="390.9" font-size="3.5" text-anchor="end" fill="#444" style="stroke:none">10%</text>
<line x1="50" y1="389.7" x2="51" y2="389.7" stroke="#bbb" stroke-width="0.4"/>
<text x="49.4" y="411.59999999999997" font-size="3.5" text-anchor="end" fill="#444" style="stroke:none">5%</text>
<line x1="50" y1="410.4" x2="51" y2="410.4" stroke="#bbb" stroke-width="0.4"/>
<text x="9.9" y="396" font-size="5.5" text-anchor="middle" transform="rotate(-90 9.9 396)" fill="#1c1c1c" style="stroke:none">Alteration frequency</text>
<text x="29.3" y="434.3" font-size="4.8" text-anchor="end" transform="rotate(-65 29.3 434.3)" fill="#1c1c1c" style="stroke:none">Prostate</text>
<text x="35.8" y="434.8" font-size="4.8" text-anchor="end" transform="rotate(-65 35.8 434.8)" fill="#1c1c1c" style="stroke:none">NEPC</text>
<text x="57.2" y="434.6" font-size="4.8" text-anchor="end" transform="rotate(-65 57.2 434.6)" fill="#1c1c1c" style="stroke:none">NEPC</text>
<text x="63.6" y="434.3" font-size="4.8" text-anchor="end" transform="rotate(-65 63.6 434.3)" fill="#1c1c1c" style="stroke:none">Prostate</text>
<circle cx="24.7" cy="457.6" r="2.2" fill="#3a3a3a"/>
<text x="31" y="459.5" font-size="5.5" fill="#1c1c1c" style="stroke:none">Amplification</text>
<line x1="107.4" y1="365.5" x2="107.4" y2="456.3" stroke="#555" stroke-width="0.7"/>
<line x1="105" y1="456.3" x2="207.7" y2="456.3" stroke="#555" stroke-width="0.7"/>
<line x1="105" y1="365.5" x2="107.4" y2="365.5" stroke="#555" stroke-width="0.5"/>
<text x="103.4" y="367.7" font-size="6.4" text-anchor="end" fill="#222">100</text>
<line x1="105" y1="410.6" x2="107.4" y2="410.6" stroke="#555" stroke-width="0.5"/>
<text x="103.4" y="412.8" font-size="6.4" text-anchor="end" fill="#222">10</text>
<line x1="105" y1="456" x2="107.4" y2="456" stroke="#555" stroke-width="0.5"/>
<text x="103.4" y="458.2" font-size="6.4" text-anchor="end" fill="#222">1</text>
<line x1="156.5" y1="456.3" x2="156.5" y2="458" stroke="#555" stroke-width="0.5"/>
<line x1="207.5" y1="456.3" x2="207.5" y2="458" stroke="#555" stroke-width="0.5"/>
<text x="87.7" y="409.6" font-size="5.5" text-anchor="middle" transform="rotate(-90 87.7 409.6)" fill="#1c1c1c" style="stroke:none">Relative mRNA expression</text>
<rect x="107.90" y="355.80" width="3.10" height="3.10" fill="#888"/>
<text x="112.2" y="360" font-size="6.4" font-weight="bold" fill="#111">CRPC-Adeno</text>
<rect x="158.20" y="355.80" width="3.10" height="3.10" fill="#c4c4c4"/>
<text x="162.5" y="360" font-size="6.45" font-weight="bold" fill="#111">CRPC-NE</text>
<rect x="119.30" y="420.60" width="10.80" height="35.60" fill="#8a8a8a"/>
<rect x="132.80" y="438.40" width="10.80" height="17.80" fill="#c2c2c2"/>
<rect x="167.60" y="380.60" width="10.90" height="75.60" fill="#8a8a8a"/>
<rect x="181.30" y="383.20" width="10.70" height="73.00" fill="#c2c2c2"/>
<line x1="124.6" y1="416.4" x2="124.6" y2="425.7" stroke="#555" stroke-width="0.5"/>
<line x1="123.39999999999999" y1="416.4" x2="125.8" y2="416.4" stroke="#555" stroke-width="0.5"/>
<line x1="123.39999999999999" y1="425.7" x2="125.8" y2="425.7" stroke="#555" stroke-width="0.5"/>
<line x1="138.3" y1="433.2" x2="138.3" y2="444.3" stroke="#555" stroke-width="0.5"/>
<line x1="137.10000000000002" y1="433.2" x2="139.5" y2="433.2" stroke="#555" stroke-width="0.5"/>
<line x1="137.10000000000002" y1="444.3" x2="139.5" y2="444.3" stroke="#555" stroke-width="0.5"/>
<line x1="173" y1="376.5" x2="173" y2="385" stroke="#555" stroke-width="0.5"/>
<line x1="171.8" y1="376.5" x2="174.2" y2="376.5" stroke="#555" stroke-width="0.5"/>
<line x1="171.8" y1="385" x2="174.2" y2="385" stroke="#555" stroke-width="0.5"/>
<line x1="186.8" y1="379.8" x2="186.8" y2="387" stroke="#555" stroke-width="0.5"/>
<line x1="185.60000000000002" y1="379.8" x2="188.0" y2="379.8" stroke="#555" stroke-width="0.5"/>
<line x1="185.60000000000002" y1="387" x2="188.0" y2="387" stroke="#555" stroke-width="0.5"/>
<text x="131.5" y="463.6" font-size="6.0" text-anchor="middle" font-weight="bold" font-style="italic" fill="#111">CD9</text>
<text x="181.9" y="463.6" font-size="6.0" text-anchor="middle" font-weight="bold" font-style="italic" fill="#111">CD63</text>
</g>
<g id="panelD">
<text x="258.4" y="18" font-size="12.5" font-weight="bold" fill="#080808" style="stroke-width:.45px">D</text>
<rect x="275.20" y="17.50" width="1.90" height="1.90" fill="#c4c4c4"/>
<text x="277.5" y="20.1" font-size="4.5" font-weight="bold" fill="#111" textLength="14.7">LNCaP</text>
<rect x="296.30" y="17.50" width="1.90" height="1.90" fill="#8a8a8a"/>
<text x="299.7" y="20.1" font-size="4.5" font-weight="bold" fill="#111" textLength="22.8">LNCaP-AR</text>
<rect x="327.20" y="17.50" width="2.00" height="2.00" fill="#111"/>
<text x="330.4" y="20.1" font-size="4.5" font-weight="bold" fill="#111" textLength="37.3">LNCaP-AR-ENZR</text>
<line x1="277.4" y1="27.4" x2="277.4" y2="126.5" stroke="#777" stroke-width="0.6"/>
<line x1="276" y1="126.5" x2="374" y2="126.5" stroke="#777" stroke-width="0.6"/>
<line x1="276" y1="27.4" x2="277.4" y2="27.4" stroke="#777" stroke-width="0.5"/>
<text x="273.9" y="28.9" font-size="4.35" text-anchor="end" fill="#151515">3.5</text>
<line x1="276" y1="41.56" x2="277.4" y2="41.56" stroke="#777" stroke-width="0.5"/>
<text x="273.9" y="43.06" font-size="4.35" text-anchor="end" fill="#151515">3</text>
<line x1="276" y1="55.72" x2="277.4" y2="55.72" stroke="#777" stroke-width="0.5"/>
<text x="273.9" y="57.22" font-size="4.35" text-anchor="end" fill="#151515">2.5</text>
<line x1="276" y1="69.88" x2="277.4" y2="69.88" stroke="#777" stroke-width="0.5"/>
<text x="273.9" y="71.38" font-size="4.35" text-anchor="end" fill="#151515">2</text>
<line x1="276" y1="84.03999999999999" x2="277.4" y2="84.03999999999999" stroke="#777" stroke-width="0.5"/>
<text x="273.9" y="85.53999999999999" font-size="4.35" text-anchor="end" fill="#151515">1.5</text>
<line x1="276" y1="98.19999999999999" x2="277.4" y2="98.19999999999999" stroke="#777" stroke-width="0.5"/>
<text x="273.9" y="99.69999999999999" font-size="4.35" text-anchor="end" fill="#151515">1</text>
<line x1="276" y1="112.36000000000001" x2="277.4" y2="112.36000000000001" stroke="#777" stroke-width="0.5"/>
<text x="273.9" y="113.86000000000001" font-size="4.35" text-anchor="end" fill="#151515">0.5</text>
<line x1="276" y1="126.52000000000001" x2="277.4" y2="126.52000000000001" stroke="#777" stroke-width="0.5"/>
<text x="273.9" y="128.02" font-size="4.35" text-anchor="end" fill="#151515">0</text>
<line x1="324.8" y1="126.5" x2="324.8" y2="128" stroke="#777" stroke-width="0.5"/>
<line x1="374" y1="126.5" x2="374" y2="128" stroke="#777" stroke-width="0.5"/>
<text x="262.6" y="75.2" font-size="5.85" text-anchor="middle" transform="rotate(-90 262.6 75.2)" fill="#1c1c1c" style="stroke:none">Relative mRNA expression</text>
<rect x="284.50" y="98.40" width="9.70" height="28.10" fill="#cecece"/>
<rect x="296.00" y="102.60" width="9.50" height="23.90" fill="#858585"/>
<rect x="308.00" y="56.50" width="9.70" height="70.00" fill="#000"/>
<rect x="331.60" y="99.00" width="9.70" height="27.50" fill="#cecece"/>
<rect x="343.50" y="95.20" width="9.70" height="31.30" fill="#858585"/>
<rect x="354.60" y="66.80" width="9.70" height="59.70" fill="#000"/>
<line x1="289.6" y1="91.3" x2="289.6" y2="105.8" stroke="#666" stroke-width="0.5"/>
<line x1="288.40000000000003" y1="91.3" x2="290.8" y2="91.3" stroke="#666" stroke-width="0.5"/>
<line x1="288.40000000000003" y1="105.8" x2="290.8" y2="105.8" stroke="#666" stroke-width="0.5"/>
<line x1="301" y1="98.4" x2="301" y2="106.5" stroke="#666" stroke-width="0.5"/>
<line x1="299.8" y1="98.4" x2="302.2" y2="98.4" stroke="#666" stroke-width="0.5"/>
<line x1="299.8" y1="106.5" x2="302.2" y2="106.5" stroke="#666" stroke-width="0.5"/>
<line x1="312.8" y1="44.5" x2="312.8" y2="68.7" stroke="#666" stroke-width="0.5"/>
<line x1="311.6" y1="44.5" x2="314.0" y2="44.5" stroke="#666" stroke-width="0.5"/>
<line x1="311.6" y1="68.7" x2="314.0" y2="68.7" stroke="#666" stroke-width="0.5"/>
<line x1="336.4" y1="97.8" x2="336.4" y2="99.8" stroke="#555" stroke-width="0.5"/>
<line x1="335.4" y1="97.8" x2="337.4" y2="97.8" stroke="#555" stroke-width="0.5"/>
<line x1="335.4" y1="99.8" x2="337.4" y2="99.8" stroke="#555" stroke-width="0.5"/>
<line x1="348.3" y1="92" x2="348.3" y2="96" stroke="#555" stroke-width="0.5"/>
<line x1="347.3" y1="92" x2="349.3" y2="92" stroke="#555" stroke-width="0.5"/>
<line x1="347.3" y1="96" x2="349.3" y2="96" stroke="#555" stroke-width="0.5"/>
<line x1="359.5" y1="59.7" x2="359.5" y2="74.2" stroke="#666" stroke-width="0.5"/>
<line x1="358.3" y1="59.7" x2="360.7" y2="59.7" stroke="#666" stroke-width="0.5"/>
<line x1="358.3" y1="74.2" x2="360.7" y2="74.2" stroke="#666" stroke-width="0.5"/>
<text x="299.4" y="95.9" font-size="4.0" text-anchor="middle" fill="#1a1a1a"><tspan font-style="italic">P</tspan> = 0.397</text>
<text x="313" y="42.4" font-size="4.0" text-anchor="middle" fill="#1a1a1a"><tspan font-style="italic">P</tspan> = 0.007*</text>
<text x="345.8" y="88.6" font-size="4.0" text-anchor="middle" fill="#1a1a1a"><tspan font-style="italic">P</tspan> = 0.227</text>
<text x="360" y="57.4" font-size="4.0" text-anchor="middle" fill="#1a1a1a"><tspan font-style="italic">P</tspan> = 0.009*</text>
<text x="301.2" y="133.4" font-size="4.8" text-anchor="middle" font-weight="bold" font-style="italic" fill="#111">EV-BRN2</text>
<text x="348.4" y="133.4" font-size="4.8" text-anchor="middle" font-weight="bold" font-style="italic" fill="#111">EV-BRN4</text>
</g>
<g id="panelE">
<text x="384.7" y="16.8" font-size="12.5" font-weight="bold" fill="#080808" style="stroke-width:.45px">E</text>
<line x1="397.8" y1="31.3" x2="397.8" y2="130.6" stroke="#666" stroke-width="0.7"/>
<line x1="396" y1="130.6" x2="494.5" y2="130.6" stroke="#666" stroke-width="0.7"/>
<line x1="396" y1="31.3" x2="397.8" y2="31.3" stroke="#666" stroke-width="0.5"/>
<text x="394.6" y="32.8" font-size="5.1" text-anchor="end" fill="#151515">120</text>
<line x1="396" y1="47.85" x2="397.8" y2="47.85" stroke="#666" stroke-width="0.5"/>
<text x="394.6" y="49.35" font-size="5.1" text-anchor="end" fill="#151515">100</text>
<line x1="396" y1="64.4" x2="397.8" y2="64.4" stroke="#666" stroke-width="0.5"/>
<text x="394.6" y="65.9" font-size="5.1" text-anchor="end" fill="#151515">80</text>
<line x1="396" y1="80.95" x2="397.8" y2="80.95" stroke="#666" stroke-width="0.5"/>
<text x="394.6" y="82.45" font-size="5.1" text-anchor="end" fill="#151515">60</text>
<line x1="396" y1="97.5" x2="397.8" y2="97.5" stroke="#666" stroke-width="0.5"/>
<text x="394.6" y="99.0" font-size="5.1" text-anchor="end" fill="#151515">40</text>
<line x1="396" y1="114.05" x2="397.8" y2="114.05" stroke="#666" stroke-width="0.5"/>
<text x="394.6" y="115.55" font-size="5.1" text-anchor="end" fill="#151515">20</text>
<line x1="396" y1="130.60000000000002" x2="397.8" y2="130.60000000000002" stroke="#666" stroke-width="0.5"/>
<text x="394.6" y="132.10000000000002" font-size="5.1" text-anchor="end" fill="#151515">0</text>
<line x1="445.7" y1="130.6" x2="445.7" y2="132" stroke="#777" stroke-width="0.5"/>
<line x1="494.5" y1="130.6" x2="494.5" y2="132" stroke="#777" stroke-width="0.5"/>
<text x="383.1" y="80.4" font-size="5.0" text-anchor="middle" font-weight="bold" transform="rotate(-90 383.1 80.4)" fill="#151515">No. of colonies</text>
<rect x="414.00" y="59.70" width="15.00" height="70.90" fill="#555"/>
<rect x="462.30" y="108.70" width="14.50" height="21.90" fill="#555"/>
<line x1="421.4" y1="44.6" x2="421.4" y2="74.8" stroke="#666" stroke-width="0.5"/>
<line x1="420.2" y1="44.6" x2="422.59999999999997" y2="44.6" stroke="#666" stroke-width="0.5"/>
<line x1="420.2" y1="74.8" x2="422.59999999999997" y2="74.8" stroke="#666" stroke-width="0.5"/>
<line x1="469.5" y1="105.8" x2="469.5" y2="112" stroke="#666" stroke-width="0.5"/>
<line x1="468.3" y1="105.8" x2="470.7" y2="105.8" stroke="#666" stroke-width="0.5"/>
<line x1="468.3" y1="112" x2="470.7" y2="112" stroke="#666" stroke-width="0.5"/>
<text x="470.9" y="104.2" font-size="4.0" text-anchor="middle" fill="#1a1a1a"><tspan font-style="italic">P</tspan> = 0.022*</text>
<text x="420.4" y="138" font-size="5.1" text-anchor="middle" font-weight="bold" fill="#111">LNCaP-AR-ENZR</text>
<text x="469.5" y="138" font-size="5.1" text-anchor="middle" font-weight="bold" fill="#111">LNCaP-AR-ENZR</text>
<text x="469.6" y="143.6" font-size="5.1" text-anchor="middle" font-weight="bold" fill="#111">+GW4869</text>
<text x="453.7" y="15.2" font-size="5.3" text-anchor="middle" font-weight="bold" fill="#111">Control</text>
<text x="499.8" y="8.8" font-size="5.2" text-anchor="middle" font-weight="bold" fill="#111">GW4869</text>
<text x="500.8" y="15.2" font-size="5.2" text-anchor="middle" font-weight="bold" fill="#111">(10 µmol/L)</text>
<g filter="url(#b2)">
<clipPath id="c1"><rect x="435" y="17.2" width="42" height="41.6"/></clipPath><clipPath id="c2"><rect x="480.1" y="17.2" width="39.9" height="41.6"/></clipPath>
<g clip-path="url(#c1)">
<rect x="435.00" y="17.20" width="42.00" height="41.60" fill="#b2b2b2"/>
<circle cx="438" cy="60" r="16" fill="url(#glowW)"/>
<circle cx="475" cy="19" r="11" fill="url(#glowL)"/>
<ellipse cx="457" cy="38" rx="22.6" ry="22.2" fill="none" stroke="#cfcfcf" stroke-width="1.6" opacity="0.8"/>
<ellipse cx="455.3" cy="37.8" rx="19.3" ry="19" fill="#d6d6d6" stroke="url(#rim1)" stroke-width="1.4"/>
<ellipse cx="455.3" cy="37.8" rx="18.3" ry="18" fill="#888" filter="url(#mottle1)" opacity="0.9"/>
</g>
<g clip-path="url(#c2)">
<rect x="480.10" y="17.20" width="39.90" height="41.60" fill="#b8b8b8"/>
<circle cx="482" cy="57" r="10" fill="url(#glowL)"/>
<circle cx="517" cy="20" r="10" fill="url(#glowL)"/>
<ellipse cx="501" cy="38" rx="22.6" ry="22.2" fill="none" stroke="#d2d2d2" stroke-width="1.8" opacity="0.8"/>
<ellipse cx="499.8" cy="37.3" rx="18.5" ry="19" fill="#d5d5d5" stroke="url(#rim2)" stroke-width="1.4"/>
<ellipse cx="499.8" cy="37.3" rx="17.6" ry="18" fill="#888" filter="url(#mottle2)" opacity="0.8"/>
</g>
</g>
</g>
<g id="panelF">
<text x="283" y="171.5" font-size="12.5" font-weight="bold" fill="#080808" style="stroke-width:.45px">F</text>
<rect x="333.20" y="171.40" width="3.40" height="3.40" fill="#8e8e8e"/>
<text x="339.4" y="176" font-size="7.2" font-weight="bold" fill="#111">RWPE1</text>
<rect x="378.40" y="170.80" width="3.30" height="3.30" fill="#777"/>
<text x="385.2" y="174.8" font-size="7.3" font-weight="bold" fill="#111" textLength="24.6">LNCaP</text>
<rect x="424.60" y="171.20" width="3.30" height="3.30" fill="#111"/>
<text x="431.7" y="175.4" font-size="7.05" font-weight="bold" fill="#111">NCI-H660</text>
<text x="403.9" y="188.3" font-size="6.8" text-anchor="middle" font-weight="bold" fill="#111">Cellular</text>
<line x1="387.7" y1="190.9" x2="425.5" y2="190.9" stroke="#5a5a5a" stroke-width="0.9"/>
<line x1="327" y1="181" x2="327" y2="309.2" stroke="#666" stroke-width="0.7"/>
<line x1="325.3" y1="272.4" x2="505" y2="272.4" stroke="#333" stroke-width="0.8"/>
<line x1="325.2" y1="181.0" x2="327" y2="181.0" stroke="#666" stroke-width="0.5"/>
<text x="322.7" y="183.5" font-size="7.1" text-anchor="end" fill="#222">100,000</text>
<line x1="325.2" y1="199.3" x2="327" y2="199.3" stroke="#666" stroke-width="0.5"/>
<text x="322.7" y="201.8" font-size="7.1" text-anchor="end" fill="#222">10,000</text>
<line x1="325.2" y1="217.6" x2="327" y2="217.6" stroke="#666" stroke-width="0.5"/>
<text x="322.7" y="220.1" font-size="7.1" text-anchor="end" fill="#222">1,000</text>
<line x1="325.2" y1="235.9" x2="327" y2="235.9" stroke="#666" stroke-width="0.5"/>
<text x="322.7" y="238.4" font-size="7.1" text-anchor="end" fill="#222">100</text>
<line x1="325.2" y1="254.2" x2="327" y2="254.2" stroke="#666" stroke-width="0.5"/>
<text x="322.7" y="256.7" font-size="7.1" text-anchor="end" fill="#222">10</text>
<line x1="325.2" y1="272.5" x2="327" y2="272.5" stroke="#666" stroke-width="0.5"/>
<text x="322.7" y="275.0" font-size="7.1" text-anchor="end" fill="#222">1</text>
<line x1="325.2" y1="290.8" x2="327" y2="290.8" stroke="#666" stroke-width="0.5"/>
<text x="322.7" y="293.3" font-size="7.1" text-anchor="end" fill="#222">0.1</text>
<line x1="325.2" y1="309.1" x2="327" y2="309.1" stroke="#666" stroke-width="0.5"/>
<text x="322.7" y="311.6" font-size="7.1" text-anchor="end" fill="#222">0.01</text>
<line x1="368.9" y1="272.4" x2="368.9" y2="274" stroke="#777" stroke-width="0.5"/>
<line x1="414.3" y1="272.4" x2="414.3" y2="274" stroke="#777" stroke-width="0.5"/>
<line x1="459.4" y1="272.4" x2="459.4" y2="274" stroke="#777" stroke-width="0.5"/>
<line x1="505" y1="272.4" x2="505" y2="274" stroke="#777" stroke-width="0.5"/>
<text x="293.4" y="232.3" font-size="6.1" text-anchor="middle" transform="rotate(-90 293.4 232.3)" fill="#1c1c1c" style="stroke:none">Relative mRNA expression</text>
<rect x="338.00" y="271.60" width="3.60" height="0.80" fill="#a0a0a0"/>
<rect x="345.40" y="247.50" width="7.60" height="24.90" fill="#7e7e7e"/>
<rect x="355.30" y="199.00" width="7.50" height="73.40" fill="#000"/>
<line x1="349.2" y1="247.1" x2="349.2" y2="247.9" stroke="#444" stroke-width="0.5"/>
<line x1="348.2" y1="247.1" x2="350.2" y2="247.1" stroke="#444" stroke-width="0.5"/>
<line x1="348.2" y1="247.9" x2="350.2" y2="247.9" stroke="#444" stroke-width="0.5"/>
<line x1="359" y1="197.8" x2="359" y2="200.2" stroke="#444" stroke-width="0.5"/>
<line x1="358.0" y1="197.8" x2="360.0" y2="197.8" stroke="#444" stroke-width="0.5"/>
<line x1="358.0" y1="200.2" x2="360.0" y2="200.2" stroke="#444" stroke-width="0.5"/>
<rect x="382.00" y="271.20" width="3.00" height="1.20" fill="#a0a0a0"/>
<rect x="389.50" y="268.70" width="7.80" height="3.70" fill="#7e7e7e"/>
<rect x="399.40" y="238.20" width="7.40" height="34.20" fill="#000"/>
<line x1="393.4" y1="263.5" x2="393.4" y2="271" stroke="#555" stroke-width="0.5"/>
<line x1="392.09999999999997" y1="263.5" x2="394.7" y2="263.5" stroke="#555" stroke-width="0.5"/>
<line x1="392.09999999999997" y1="271" x2="394.7" y2="271" stroke="#555" stroke-width="0.5"/>
<line x1="403.1" y1="236.8" x2="403.1" y2="239.8" stroke="#444" stroke-width="0.5"/>
<line x1="402.1" y1="236.8" x2="404.1" y2="236.8" stroke="#444" stroke-width="0.5"/>
<line x1="402.1" y1="239.8" x2="404.1" y2="239.8" stroke="#444" stroke-width="0.5"/>
<rect x="426.20" y="271.60" width="3.60" height="0.80" fill="#a0a0a0"/>
<rect x="433.80" y="272.40" width="7.50" height="4.60" fill="#7e7e7e"/>
<rect x="443.10" y="270.40" width="7.80" height="2.00" fill="#000"/>
<line x1="437.5" y1="276.2" x2="437.5" y2="277.6" stroke="#666" stroke-width="0.5"/>
<line x1="436.5" y1="276.2" x2="438.5" y2="276.2" stroke="#666" stroke-width="0.5"/>
<line x1="436.5" y1="277.6" x2="438.5" y2="277.6" stroke="#666" stroke-width="0.5"/>
<line x1="447" y1="268.6" x2="447" y2="270.8" stroke="#444" stroke-width="0.5"/>
<line x1="446.0" y1="268.6" x2="448.0" y2="268.6" stroke="#444" stroke-width="0.5"/>
<line x1="446.0" y1="270.8" x2="448.0" y2="270.8" stroke="#444" stroke-width="0.5"/>
<rect x="470.00" y="271.60" width="4.00" height="0.80" fill="#a0a0a0"/>
<rect x="477.50" y="272.40" width="8.00" height="20.10" fill="#7e7e7e"/>
<rect x="487.50" y="221.60" width="7.50" height="50.80" fill="#000"/>
<line x1="472" y1="268.8" x2="472" y2="272" stroke="#666" stroke-width="0.5"/>
<line x1="471.0" y1="268.8" x2="473.0" y2="268.8" stroke="#666" stroke-width="0.5"/>
<line x1="471.0" y1="272" x2="473.0" y2="272" stroke="#666" stroke-width="0.5"/>
<line x1="481.5" y1="289.4" x2="481.5" y2="295.8" stroke="#666" stroke-width="0.5"/>
<line x1="480.5" y1="289.4" x2="482.5" y2="289.4" stroke="#666" stroke-width="0.5"/>
<line x1="480.5" y1="295.8" x2="482.5" y2="295.8" stroke="#666" stroke-width="0.5"/>
<line x1="491.2" y1="220.4" x2="491.2" y2="222.8" stroke="#444" stroke-width="0.5"/>
<line x1="490.2" y1="220.4" x2="492.2" y2="220.4" stroke="#444" stroke-width="0.5"/>
<line x1="490.2" y1="222.8" x2="492.2" y2="222.8" stroke="#444" stroke-width="0.5"/>
<text x="358.6" y="195.2" font-size="3.95" text-anchor="middle" fill="#1a1a1a"><tspan font-style="italic">P</tspan> = 0.018*</text>
<text x="345.8" y="244.5" font-size="3.95" text-anchor="middle" fill="#1a1a1a"><tspan font-style="italic">P</tspan> = 0.010*</text>
<text x="389.6" y="260.9" font-size="3.95" text-anchor="middle" fill="#1a1a1a"><tspan font-style="italic">P</tspan> = 0.021*</text>
<text x="402.1" y="235.1" font-size="3.95" text-anchor="middle" fill="#1a1a1a"><tspan font-style="italic">P</tspan> = 0.020*</text>
<text x="434.1" y="269.9" font-size="3.75" text-anchor="middle" fill="#1a1a1a"><tspan font-style="italic">P</tspan> = 0.007*</text>
<text x="448.7" y="265.1" font-size="3.9" text-anchor="middle" fill="#1a1a1a"><tspan font-style="italic">P</tspan> = 0.301</text>
<text x="478" y="270.3" font-size="3.9" text-anchor="middle" fill="#1a1a1a"><tspan font-style="italic">P</tspan> = 0.152</text>
<text x="491.9" y="218.9" font-size="3.8" text-anchor="middle" fill="#1a1a1a"><tspan font-style="italic">P</tspan> = 0.001*</text>
<text x="349.3" y="283.6" font-size="7.3" text-anchor="middle" font-weight="bold" font-style="italic" fill="#111">BRN2</text>
<text x="393" y="283.6" font-size="7.3" text-anchor="middle" font-weight="bold" font-style="italic" fill="#111">BRN4</text>
<text x="436.2" y="283.6" font-size="7.3" text-anchor="middle" font-weight="bold" font-style="italic" fill="#111">CUX1</text>
<text x="482.8" y="283.6" font-size="7.3" text-anchor="middle" font-weight="bold" font-style="italic" fill="#111">ATP2A3</text>
<text x="407.1" y="318.4" font-size="7.1" text-anchor="middle" font-weight="bold" fill="#111">EV</text>
<line x1="391" y1="320.2" x2="430.2" y2="320.2" stroke="#5a5a5a" stroke-width="0.9"/>
<line x1="328" y1="320.8" x2="328" y2="419.5" stroke="#666" stroke-width="0.7"/>
<line x1="325.8" y1="419.5" x2="512.5" y2="419.5" stroke="#444" stroke-width="0.7"/>
<line x1="325.8" y1="321.0" x2="328" y2="321.0" stroke="#666" stroke-width="0.5"/>
<text x="321.9" y="323.5" font-size="7.2" text-anchor="end" fill="#222">1E+10</text>
<line x1="325.8" y1="330.82" x2="328" y2="330.82" stroke="#666" stroke-width="0.5"/>
<text x="321.9" y="333.32" font-size="7.2" text-anchor="end" fill="#222">1E+09</text>
<line x1="325.8" y1="340.64" x2="328" y2="340.64" stroke="#666" stroke-width="0.5"/>
<text x="321.9" y="343.14" font-size="7.2" text-anchor="end" fill="#222">100,000,000</text>
<line x1="325.8" y1="350.46" x2="328" y2="350.46" stroke="#666" stroke-width="0.5"/>
<text x="321.9" y="352.96" font-size="7.2" text-anchor="end" fill="#222">10,000,000</text>
<line x1="325.8" y1="360.28" x2="328" y2="360.28" stroke="#666" stroke-width="0.5"/>
<text x="321.9" y="362.78" font-size="7.2" text-anchor="end" fill="#222">1,000,000</text>
<line x1="325.8" y1="370.1" x2="328" y2="370.1" stroke="#666" stroke-width="0.5"/>
<text x="321.9" y="372.6" font-size="7.2" text-anchor="end" fill="#222">100,000</text>
<line x1="325.8" y1="379.92" x2="328" y2="379.92" stroke="#666" stroke-width="0.5"/>
<text x="321.9" y="382.42" font-size="7.2" text-anchor="end" fill="#222">10,000</text>
<line x1="325.8" y1="389.74" x2="328" y2="389.74" stroke="#666" stroke-width="0.5"/>
<text x="321.9" y="392.24" font-size="7.2" text-anchor="end" fill="#222">1,000</text>
<line x1="325.8" y1="399.56" x2="328" y2="399.56" stroke="#666" stroke-width="0.5"/>
<text x="321.9" y="402.06" font-size="7.2" text-anchor="end" fill="#222">100</text>
<line x1="325.8" y1="409.38" x2="328" y2="409.38" stroke="#666" stroke-width="0.5"/>
<text x="321.9" y="411.88" font-size="7.2" text-anchor="end" fill="#222">10</text>
<line x1="325.8" y1="419.2" x2="328" y2="419.2" stroke="#666" stroke-width="0.5"/>
<text x="321.9" y="421.7" font-size="7.2" text-anchor="end" fill="#222">1</text>
<line x1="376" y1="419.5" x2="376" y2="421.2" stroke="#666" stroke-width="0.5"/>
<line x1="422.5" y1="419.5" x2="422.5" y2="421.2" stroke="#666" stroke-width="0.5"/>
<line x1="467.5" y1="419.5" x2="467.5" y2="421.2" stroke="#666" stroke-width="0.5"/>
<line x1="512.5" y1="419.5" x2="512.5" y2="421.2" stroke="#666" stroke-width="0.5"/>
<text x="278.8" y="362" font-size="5.9" text-anchor="middle" transform="rotate(-90 278.8 362)" fill="#1c1c1c" style="stroke:none">Relative mRNA expression</text>
<rect x="337.00" y="379.00" width="9.00" height="40.50" fill="#a0a0a0"/>
<rect x="347.90" y="371.50" width="8.40" height="48.00" fill="#7e7e7e"/>
<rect x="358.00" y="338.00" width="8.90" height="81.50" fill="#000"/>
<rect x="384.20" y="374.80" width="8.70" height="44.70" fill="#a0a0a0"/>
<rect x="394.80" y="359.70" width="8.40" height="59.80" fill="#7e7e7e"/>
<rect x="405.20" y="331.00" width="8.60" height="88.50" fill="#000"/>
<line x1="341.5" y1="377.6" x2="341.5" y2="380.2" stroke="#555" stroke-width="0.5"/>
<line x1="340.5" y1="377.6" x2="342.5" y2="377.6" stroke="#555" stroke-width="0.5"/>
<line x1="340.5" y1="380.2" x2="342.5" y2="380.2" stroke="#555" stroke-width="0.5"/>
<line x1="362.4" y1="336.8" x2="362.4" y2="339.2" stroke="#444" stroke-width="0.5"/>
<line x1="361.4" y1="336.8" x2="363.4" y2="336.8" stroke="#444" stroke-width="0.5"/>
<line x1="361.4" y1="339.2" x2="363.4" y2="339.2" stroke="#444" stroke-width="0.5"/>
<line x1="388.5" y1="373.6" x2="388.5" y2="376" stroke="#555" stroke-width="0.5"/>
<line x1="387.5" y1="373.6" x2="389.5" y2="373.6" stroke="#555" stroke-width="0.5"/>
<line x1="387.5" y1="376" x2="389.5" y2="376" stroke="#555" stroke-width="0.5"/>
<line x1="409.5" y1="329.9" x2="409.5" y2="332.1" stroke="#444" stroke-width="0.5"/>
<line x1="408.5" y1="329.9" x2="410.5" y2="329.9" stroke="#444" stroke-width="0.5"/>
<line x1="408.5" y1="332.1" x2="410.5" y2="332.1" stroke="#444" stroke-width="0.5"/>
<text x="348.2" y="368.6" font-size="3.9" text-anchor="middle" fill="#1a1a1a"><tspan font-style="italic">P</tspan> = 0.178</text>
<text x="362" y="333.6" font-size="3.8" text-anchor="middle" fill="#1a1a1a"><tspan font-style="italic">P</tspan> = 0.022*</text>
<text x="393.8" y="356.5" font-size="3.9" text-anchor="middle" fill="#1a1a1a"><tspan font-style="italic">P</tspan> = 0.168</text>
<text x="409.9" y="328.5" font-size="3.9" text-anchor="middle" fill="#1a1a1a"><tspan font-style="italic">P</tspan> = 0.020*</text>
<text x="352.4" y="431" font-size="7.9" text-anchor="middle" font-weight="bold" font-style="italic" fill="#111">BRN2</text>
<text x="399.2" y="431" font-size="7.9" text-anchor="middle" font-weight="bold" font-style="italic" fill="#111">BRN4</text>
<text x="445.2" y="431" font-size="7.9" text-anchor="middle" font-weight="bold" font-style="italic" fill="#111">CUX1</text>
<text x="491" y="431" font-size="7.9" text-anchor="middle" font-weight="bold" font-style="italic" fill="#111">ATP2A3</text>
</g>
</g>
</svg>
</body></html>
